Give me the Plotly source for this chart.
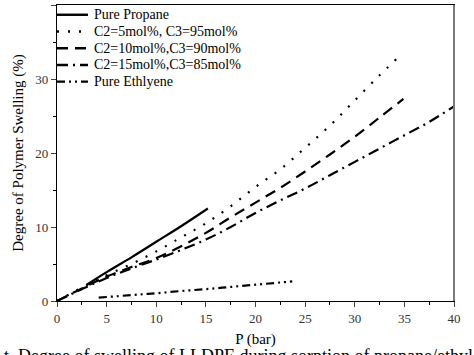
import plotly.graph_objects as go

# Data
propane_p = [3.0, 5.0, 7.5, 10.0, 12.5, 15.2]
propane_s = [2.2, 3.9, 5.9, 8.0, 10.1, 12.5]

c2_5_p = [0, 2.5, 5, 7.5, 10, 12.5, 15, 17.5, 20, 22.5, 25, 27.5, 30, 32.5, 34.2]
c2_5_s = [0, 1.8, 3.5, 5.0, 6.7, 8.6, 10.5, 12.8, 15.4, 17.8, 20.7, 23.7, 27.1, 30.5, 32.7]

c2_10_p = [0, 2.5, 5, 7.5, 10, 12.5, 15, 17.5, 20, 22.5, 25, 27.5, 30, 32.5, 34.9]
c2_10_s = [0, 1.7, 3.3, 4.6, 5.8, 7.4, 9.2, 11.3, 13.3, 15.3, 17.5, 19.8, 22.2, 24.8, 27.3]

c2_15_p = [0, 2.5, 5, 7.5, 10, 12.5, 15, 17.5, 20, 22.5, 25, 27.5, 30, 32.5, 35, 37.5, 40]
c2_15_s = [0, 1.6, 3.1, 4.4, 5.6, 6.9, 8.3, 10.0, 11.9, 13.6, 15.2, 17.0, 18.8, 20.6, 22.4, 24.2, 26.3]

ethylene_p = [4.2, 7.5, 10, 12.5, 15, 17.5, 20, 22.5, 23.7]
ethylene_s = [0.45, 0.8, 1.05, 1.35, 1.6, 1.9, 2.2, 2.5, 2.65]

names = ["Pure Propane", "C2=5mol%, C3=95mol%", "C2=10mol%,C3=90mol%",
         "C2=15mol%,C3=85mol%", "Pure Ethlyene"]

caption = "t. Degree of swelling of LLDPE during sorption of propane/ethylene mixture"

FONT = "Liberation Serif, Times New Roman, serif"

series = [
    (propane_p, propane_s, "solid"),
    (c2_5_p, c2_5_s, "2px,9px"),
    (c2_10_p, c2_10_s, "11px,7px"),
    (c2_15_p, c2_15_s, "11px,5px,2px,5px"),
    (ethylene_p, ethylene_s, "8px,4px,2px,4px,2px,4px"),
]

fig = go.Figure()
for (px, sy, dash), nm in zip(series, names):
    fig.add_trace(go.Scatter(x=px, y=sy, mode="lines", name=nm, showlegend=False,
                             line=dict(color="black", width=2.2, dash=dash, shape="spline")))

# Manual legend (compact rows like the reference)
row_top = 0.967
row_gap = 0.0565
for i, ((_, _, dash), nm) in enumerate(zip(series, names)):
    yy = row_top - i * row_gap
    fig.add_shape(type="line", xref="paper", yref="paper", x0=0.0, x1=0.078, y0=yy, y1=yy,
                  line=dict(color="black", width=2.4, dash=dash))
    fig.add_annotation(text=nm, xref="paper", yref="paper", x=0.088, y=yy,
                       xanchor="left", yanchor="middle", showarrow=False,
                       font=dict(family=FONT, size=14, color="black"))

fig.update_layout(
    width=474, height=355,
    margin=dict(l=57, r=20, t=5, b=54),
    paper_bgcolor="white", plot_bgcolor="white",
    font=dict(family=FONT, size=13, color="black"),
    showlegend=False,
    xaxis=dict(range=[0, 40], tick0=0, dtick=5, ticks="outside", ticklen=5,
               showline=True, linecolor="black", linewidth=1.2, mirror=True,
               showgrid=False, zeroline=False,
               minor=dict(dtick=2.5, ticks="outside", ticklen=3, tickcolor="black"),
               tickfont=dict(family=FONT, size=13, color="#333"),
               title=dict(text="P (bar)", font=dict(family=FONT, size=15), standoff=8)),
    yaxis=dict(range=[0, 40], tick0=0, dtick=10, ticks="outside", ticklen=5,
               showline=True, linecolor="black", linewidth=1.2, mirror=True,
               showgrid=False, zeroline=False,
               minor=dict(dtick=5, ticks="outside", ticklen=3, tickcolor="black"),
               tickfont=dict(family=FONT, size=13, color="#333"),
               title=dict(text="Degree of Polymer Swelling (%)", font=dict(family=FONT, size=15), standoff=8)),
)

# gray right border as in the reference
fig.add_shape(type="line", xref="paper", yref="paper", x0=1, x1=1, y0=0, y1=1,
              line=dict(color="#7a7a7a", width=2))

fig.add_annotation(
    text=caption,
    xref="paper", yref="paper", x=-0.138, y=-0.145, xanchor="left", yanchor="top",
    showarrow=False, font=dict(family=FONT, size=18, color="black"),
)

fig.write_html("out.html", config={"displayModeBar": False},
               post_script="document.body.style.margin='0px';document.body.style.padding='0px';")
